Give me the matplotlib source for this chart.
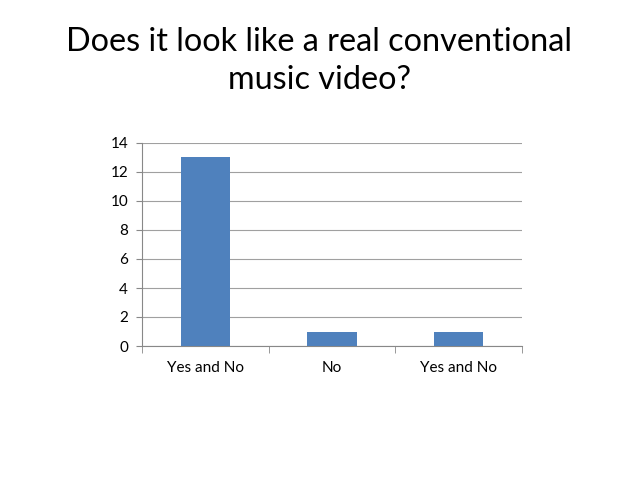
import matplotlib
matplotlib.use("Agg")
import matplotlib.pyplot as plt

categories = ["Yes and No", "No", "Yes and No"]
values = [13, 1, 1]
yticks = [0, 2, 4, 6, 8, 10, 12, 14]

plt.rcParams['font.family'] = ['Lato', 'DejaVu Sans']

fig = plt.figure(figsize=(6.38, 4.78), dpi=100)
ax = fig.add_axes([142/638, 1-346/478, (522-142)/638, (346-143)/478])

x = list(range(len(categories)))
ax.bar(x, values, width=0.39, color="#4F81BD", zorder=3)
ax.set_xlim(-0.5, len(categories)-0.5)
ax.set_ylim(0, 14)
ax.set_yticks(yticks)
ax.set_yticklabels([str(v) for v in yticks], fontsize=11, color="#000000")
ax.yaxis.grid(True, color="#A0A0A0", linewidth=0.8, zorder=0)
ax.set_xticks(x)
ax.set_xticklabels(categories, fontsize=11)
ax.tick_params(axis='x', length=0, pad=11)
ax.tick_params(axis='y', length=4, color="#888888", pad=6)
# category boundary ticks
ax.set_xticks([i - 0.5 for i in range(len(categories)+1)], minor=True)
ax.tick_params(axis='x', which='minor', length=5, color="#888888")
for s in ['top', 'right']:
    ax.spines[s].set_visible(False)
ax.spines['left'].set_color("#888888")
ax.spines['bottom'].set_color("#888888")

fig.text(0.5, 1-61/478, "Does it look like a real conventional\nmusic video?",
         ha='center', va='center', fontsize=23.3, linespacing=1.32)

fig.savefig("out.png", dpi=100)
